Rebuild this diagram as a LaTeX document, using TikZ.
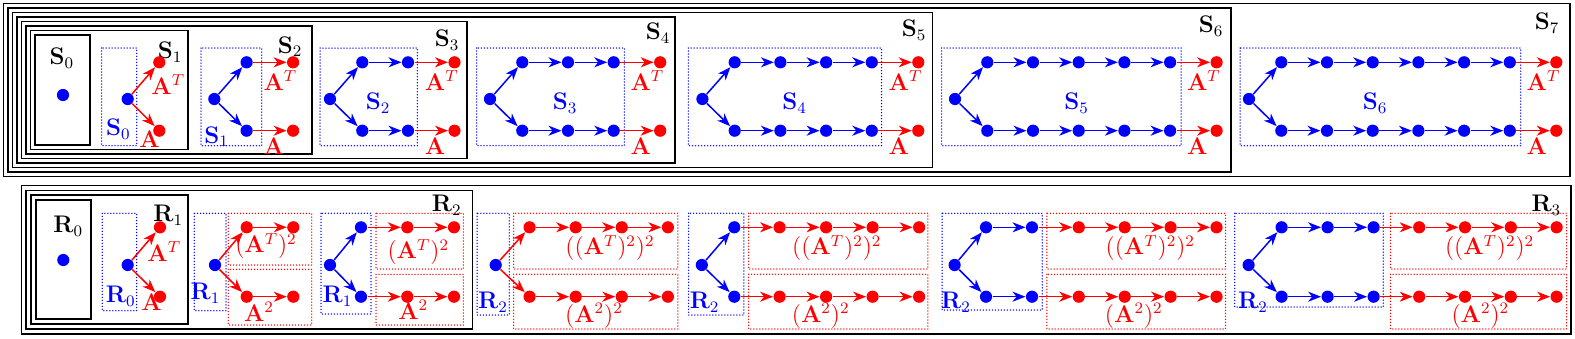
\documentclass[tikz,border=0pt]{standalone}
\usetikzlibrary{arrows.meta}
\begin{document}
\begin{tikzpicture}[x=0.5pt,y=-0.5pt,
  frame/.style={draw=black,line width=0.85pt},
  bdot/.style={circle,fill=blue,inner sep=0pt,minimum size=6.1pt},
  rdot/.style={circle,fill=red,inner sep=0pt,minimum size=6.1pt},
  tipx/.style={-{Stealth[length=6.5pt,width=5pt,inset=2pt]}},
  barr/.style={draw=blue,line width=0.75pt,tipx},
  rarr/.style={draw=red,line width=0.75pt,tipx},
  bbox/.style={draw=blue,line width=0.75pt,line cap=round,dash pattern=on 0pt off 1.5pt},
  rbox/.style={draw=red,line width=0.75pt,line cap=round,dash pattern=on 0pt off 1.5pt},
  klbl/.style={inner sep=0pt,font=\fontsize{12}{14}\selectfont},
  blbl/.style={klbl,text=blue},
  rlbl/.style={klbl,text=red},
]
\useasboundingbox (0,0) rectangle (1575,338);

% ---------- top row frames S_k ----------
\foreach \k/\r/\lx/\ly in {0/90/62/58, 1/188/170/52, 2/312/290/46.7, 3/467/447/40,
    4/675/658/33, 5/932.4/914/30, 6/1231/1211/26, 7/1570/1547/23}{
  \pgfmathsetmacro\o{35-4.5*\k}
  \pgfmathsetmacro\b{145+4.5*\k}
  \draw[frame] (\o,\o) rectangle (\r,\b);
  \node[klbl] (S\k) at (\lx,\ly) {$\mathbf{S}_{\k}$};
}
\node[bdot] (s0-d) at (63,95) {};

% S_1 content
\draw[bbox] (101.7,48) rectangle (136.7,145.7);
\node[bdot] (s1-r) at (127.7,99) {};
\node[rdot] (s1-RT) at (159.3,62.3) {};
\node[rdot] (s1-RB) at (159.3,130.7) {};
\draw[rarr] (s1-r) -- (s1-RT);
\draw[rarr] (s1-r) -- (s1-RB);
\node[blbl] (s1-lab) at (118.3,129) {$\mathbf{S}_0$};
\node[rlbl,anchor=base west] (s1-at) at (151,94.3) {$\mathbf{A}^T$};
\node[rlbl,anchor=base west] (s1-a) at (139,147) {$\mathbf{A}$};

% S_2 .. S_7 content
\foreach \k/\r/\rl/\rr/\lx/\ly in {2/214.3/201/261.7/216.7/136.7, 3/330/320/417.3/378/103,
    4/490/476.7/624.3/565/103, 5/702.4/688.3/881.5/794.7/103,
    6/955/941.6/1181.2/1076.7/103, 7/1249/1240/1520.7/1375/103}{
  \pgfmathtruncatemacro\n{\k-1}
  \draw[bbox] (\rl,48) rectangle (\rr,145.7);
  \node[bdot] (s\k-r) at (\r,99) {};
  \foreach \i in {1,...,\n}{
    \pgfmathsetmacro\xx{\r+32.3+45.7*(\i-1)}
    \node[bdot] (s\k-t\i) at (\xx,62.3) {};
    \node[bdot] (s\k-b\i) at (\xx,130.7) {};
  }
  \pgfmathsetmacro\xr{\r+32.3+45.7*(\n-1)+46.5}
  \node[rdot] (s\k-RT) at (\xr,62.3) {};
  \node[rdot] (s\k-RB) at (\xr,130.7) {};
  \draw[barr] (s\k-r) -- (s\k-t1);
  \draw[barr] (s\k-r) -- (s\k-b1);
  \ifnum\n>1
    \foreach \i [evaluate=\i as \j using int(\i-1)] in {2,...,\n}{
      \draw[barr] (s\k-t\j) -- (s\k-t\i);
      \draw[barr] (s\k-b\j) -- (s\k-b\i);
    }
  \fi
  \draw[rarr] (s\k-t\n) -- (s\k-RT);
  \draw[rarr] (s\k-b\n) -- (s\k-RB);
  \node[blbl] (s\k-lab) at (\lx,\ly) {$\mathbf{S}_{\n}$};
  \node[rlbl,anchor=base west] (s\k-at) at (\xr-30,90) {$\mathbf{A}^T$};
  \node[rlbl,anchor=base west] (s\k-a) at (\xr-30,154) {$\mathbf{A}$};
}

% ---------- bottom row frames R_k ----------
\foreach \k/\r/\lx/\ly in {0/90.7/68.3/226, 1/187.7/168.3/215, 2/472.5/446.7/205, 3/1571/1546.4/205}{
  \pgfmathsetmacro\o{35.7-4.7*\k}
  \pgfmathsetmacro\t{200-4.8*\k}
  \pgfmathsetmacro\b{319.3+4.8*\k}
  \draw[frame] (\o,\t) rectangle (\r,\b);
  \node[klbl] (R\k) at (\lx,\ly) {$\mathbf{R}_{\k}$};
}
\node[bdot] (r0-d) at (63.3,260) {};

% R_1 content
\draw[bbox] (102.3,213.3) rectangle (136.7,310.7);
\node[bdot] (r1-r) at (127.7,265) {};
\node[rdot] (r1-RT) at (160,227.3) {};
\node[rdot] (r1-RB) at (160,296.7) {};
\draw[rarr] (r1-r) -- (r1-RT);
\draw[rarr] (r1-r) -- (r1-RB);
\node[blbl] (r1-lab) at (120.8,296) {$\mathbf{R}_0$};
\node[rlbl,anchor=base west] (r1-at) at (147,261.7) {$\mathbf{A}^T$};
\node[rlbl,anchor=base west] (r1-a) at (141,310) {$\mathbf{A}$};

% items 2..7 of the bottom row
\foreach \id/\rx/\m/\fb/\fr/\n/\rsp/\bl/\br/\bb/\rl/\rr/\ub/\lt/\lb in {
  2/215/0/0/246.7/2/46.6/194.3/226/310.7/228.3/311.7/265/269.3/325,
  3/330/1/361/407.3/2/46.7/321/371/314/376/463.3/269/274.3/325,
  4/495.7/0/0/529.6/4/46.1/477.1/509.3/315/513.6/677.9/269/274.3/329,
  5/701.8/1/734.3/779.6/4/46.5/688.6/743.9/315/748.6/927.9/269/274.3/329,
  6/954.6/2/986/1078.8/4/45.9/942.1/1042.2/310/1046.9/1225.5/269/274.3/329,
  7/1248.6/3/1281.6/1419.2/4/45.8/1234.7/1383.2/307/1390.5/1566.6/269/274.3/329}{
  \draw[bbox] (\bl,213.3) rectangle (\br,\bb);
  \draw[rbox] (\rl,213.3) rectangle (\rr,\ub);
  \draw[rbox] (\rl,\lt) rectangle (\rr,\lb);
  \node[bdot] (q\id-r) at (\rx,265) {};
  \edef\su{q\id-r}\edef\sl{q\id-r}
  \ifnum\m>0
    \foreach \i in {1,...,\m}{
      \pgfmathsetmacro\xx{\fb+46*(\i-1)}
      \node[bdot] (q\id-u\i) at (\xx,227.3) {};
      \node[bdot] (q\id-l\i) at (\xx,296.7) {};
    }
    \draw[barr] (q\id-r) -- (q\id-u1);
    \draw[barr] (q\id-r) -- (q\id-l1);
    \ifnum\m>1
      \foreach \i [evaluate=\i as \j using int(\i-1)] in {2,...,\m}{
        \draw[barr] (q\id-u\j) -- (q\id-u\i);
        \draw[barr] (q\id-l\j) -- (q\id-l\i);
      }
    \fi
    \edef\su{q\id-u\m}\edef\sl{q\id-l\m}
  \fi
  \foreach \i in {1,...,\n}{
    \pgfmathsetmacro\xx{\fr+\rsp*(\i-1)}
    \node[rdot] (q\id-U\i) at (\xx,227.3) {};
    \node[rdot] (q\id-L\i) at (\xx,296.7) {};
  }
  \draw[rarr] (\su) -- (q\id-U1);
  \draw[rarr] (\sl) -- (q\id-L1);
  \foreach \i [evaluate=\i as \j using int(\i-1)] in {2,...,\n}{
    \draw[rarr] (q\id-U\j) -- (q\id-U\i);
    \draw[rarr] (q\id-L\j) -- (q\id-L\i);
  }
}

% labels of items 2,3
\foreach \id/\ax/\ay/\bx/\by/\cx/\cy in {2/266/246/259/311.7/205.5/293, 3/418.3/252/413.3/310/337.5/296.5}{
  \node[rlbl] (q\id-la) at (\ax,\ay) {$(\mathbf{A}^T)^2$};
  \node[rlbl] (q\id-lb) at (\bx,\by) {$\mathbf{A}^2$};
  \node[blbl] (q\id-lc) at (\cx,\cy) {$\mathbf{R}_1$};
}
% labels of items 4..7
\foreach \id/\ax/\bx/\cx in {4/610/594/493, 5/836.8/820.7/704.6, 6/1150.3/1133.8/956, 7/1489.6/1480.4/1253}{
  \node[rlbl] (q\id-la) at (\ax,248) {$((\mathbf{A}^T)^2)^2$};
  \node[rlbl] (q\id-lb) at (\bx,315.5) {$(\mathbf{A}^2)^2$};
  \node[blbl] (q\id-lc) at (\cx,302) {$\mathbf{R}_2$};
}
\end{tikzpicture}
\end{document}
